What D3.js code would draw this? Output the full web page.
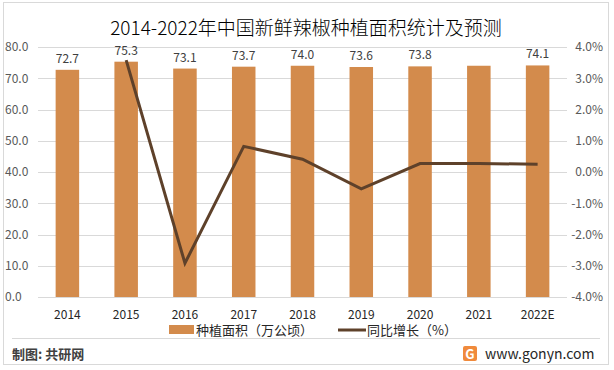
<!DOCTYPE html>
<html>
<head>
<meta charset="utf-8">
<script src="https://cdn.jsdelivr.net/npm/d3@7"></script>
<style>
body{margin:0;background:#fff;}
svg text{font-family:"Noto Sans CJK SC","Noto Sans",sans-serif;}
</style>
</head>
<body>
<svg id="graph"></svg>
<script>
var years=["2014","2015","2016","2017","2018","2019","2020","2021","2022E"];
var area=[72.7,75.3,73.1,73.7,74.0,73.6,73.8,74.0,74.1];
var areaLabels=["72.7","75.3","73.1","73.7","74.0","73.6","73.8","","74.1"];
var growth=[null,3.58,-2.92,0.82,0.41,-0.54,0.27,0.27,0.25];
var leftTicks=[0,10,20,30,40,50,60,70,80];
var rightTicks=[-4,-3,-2,-1,0,1,2,3,4];

var screen={width:614,height:370}
var plot={left:38,right:567,top:47,bottom:297}

var svg=d3.select("#graph")
    .attr("width",screen.width)
    .attr("height",screen.height)

// outer frame
svg.append("rect")
    .attr("x",3.5).attr("y",2.5)
    .attr("width",605).attr("height",362)
    .attr("fill","none").attr("stroke","#d9d9d9")

var xScale=d3.scaleBand()
    .domain(years)
    .range([plot.left,plot.right])
    .paddingInner(0.6)
    .paddingOuter(0.3)

var yScale=d3.scaleLinear()
    .domain([0,80])
    .range([plot.bottom,plot.top])

var y2Scale=d3.scaleLinear()
    .domain([-4,4])
    .range([plot.bottom,plot.top])

// grid lines
svg.append("g")
    .selectAll("line")
    .data(leftTicks)
    .enter()
    .append("line")
    .attr("x1",plot.left)
    .attr("x2",plot.right)
    .attr("y1",function(d){return Math.round(yScale(d))+0.5})
    .attr("y2",function(d){return Math.round(yScale(d))+0.5})
    .attr("stroke","#d9d9d9")

// left axis
var leftAxis=d3.axisLeft(yScale)
    .tickValues(leftTicks)
    .tickFormat(d3.format(".1f"))
    .tickSize(0)
    .tickPadding(10)
var gl=svg.append("g")
    .attr("transform","translate("+plot.left+",0)")
    .call(leftAxis)
gl.select(".domain").remove()
gl.selectAll("text")
    .attr("fill","#595959")
    .style("font-size","12px")
    .attr("text-anchor","start")
    .attr("x",-33)

// right axis
var rightAxis=d3.axisRight(y2Scale)
    .tickValues(rightTicks)
    .tickFormat(function(d){return d.toFixed(1)+"%"})
    .tickSize(0)
    .tickPadding(10)
var gr=svg.append("g")
    .attr("transform","translate("+plot.right+",0)")
    .call(rightAxis)
gr.select(".domain").remove()
gr.selectAll("text")
    .attr("fill","#595959")
    .style("font-size","12px")
    .attr("text-anchor","end")
    .attr("x",36)

// bottom axis
var bottomAxis=d3.axisBottom(xScale)
    .tickSize(0)
    .tickPadding(13)
var gb=svg.append("g")
    .attr("transform","translate(0,"+plot.bottom+")")
    .call(bottomAxis)
gb.select(".domain").remove()
gb.selectAll("text")
    .attr("fill","#262626")
    .style("font-size","12px")

// bars
svg.append("g")
    .selectAll("rect")
    .data(area)
    .enter()
    .append("rect")
    .attr("x",function(d,i){return xScale(years[i])})
    .attr("width",xScale.bandwidth())
    .attr("y",function(d){return yScale(d)})
    .attr("height",function(d){return plot.bottom-yScale(d)})
    .attr("fill","#D38B4C")

// bar labels
svg.append("g")
    .selectAll("text")
    .data(area)
    .enter()
    .append("text")
    .attr("x",function(d,i){return xScale(years[i])+xScale.bandwidth()/2})
    .attr("y",function(d){return yScale(d)-7})
    .attr("text-anchor","middle")
    .attr("fill","#404040")
    .style("font-size","12px")
    .text(function(d,i){return areaLabels[i]})

// growth line
var line=d3.line()
    .defined(function(d){return d!=null})
    .x(function(d,i){return xScale(years[i])+xScale.bandwidth()/2})
    .y(function(d){return y2Scale(d)})
svg.append("path")
    .datum(growth)
    .attr("d",line)
    .attr("fill","none")
    .attr("stroke","#5E412A")
    .attr("stroke-width",3)

// title
svg.append("text")
    .attr("x",306)
    .attr("y",35)
    .attr("text-anchor","middle")
    .attr("fill","#000")
    .style("font-size","19px")
    .style("font-weight","300")
    .text("2014-2022年中国新鲜辣椒种植面积统计及预测")

// legend
svg.append("rect")
    .attr("x",169).attr("y",325)
    .attr("width",25).attr("height",9)
    .attr("fill","#D38B4C")
svg.append("text")
    .attr("x",196).attr("y",335)
    .attr("fill","#262626")
    .style("font-size","13px")
    .text("种植面积（万公顷）")
svg.append("line")
    .attr("x1",338).attr("x2",366)
    .attr("y1",330).attr("y2",330)
    .attr("stroke","#5E412A").attr("stroke-width",3)
svg.append("text")
    .attr("x",367).attr("y",335)
    .attr("fill","#262626")
    .style("font-size","13px")
    .text("同比增长（%）")

// footer
svg.append("line")
    .attr("x1",12).attr("x2",600)
    .attr("y1",338.5).attr("y2",338.5)
    .attr("stroke","#d9d9d9")
svg.append("text")
    .attr("x",12).attr("y",359)
    .attr("fill","#404040")
    .style("font-size","13px")
    .style("font-weight","bold")
    .text("制图: 共研网")

// logo
var logo=svg.append("g").attr("transform","translate(463,346)")
logo.append("rect")
    .attr("width",14).attr("height",15).attr("rx",2)
    .attr("fill","#F08A3C")
logo.append("text")
    .attr("x",7).attr("y",12.5)
    .attr("text-anchor","middle")
    .attr("fill","#fff")
    .style("font-size","13px")
    .style("font-weight","bold")
    .text("G")
svg.append("text")
    .attr("x",485).attr("y",359)
    .attr("fill","#262626")
    .style("font-size","14px")
    .text("www.gonyn.com")
</script>
</body>
</html>
